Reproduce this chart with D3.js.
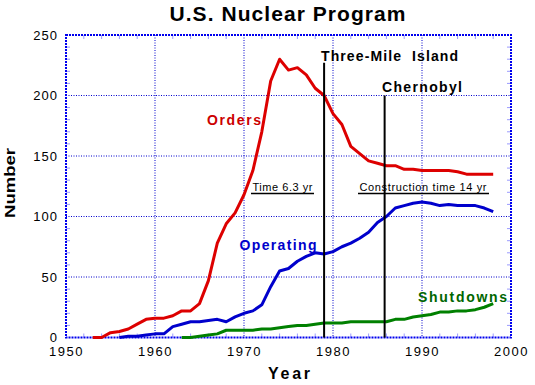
<!DOCTYPE html>
<html>
<head>
<meta charset="utf-8">
<script src="https://cdn.jsdelivr.net/npm/d3@7"></script>
<style>
  body { margin: 0; background: #fff; }
  svg { font-family: "Liberation Sans", Arial, sans-serif; }
</style>
</head>
<body>
<div id="chart"></div>
<script>
// Data
const ordersYears = d3.range(1953, 1999);
const orders = [0, 0, 4, 5, 7, 11, 15, 16, 16, 18,
  22, 22, 28, 47, 78, 94, 103, 118, 138, 170,
  212, 230, 221, 223, 217, 206, 200, 185, 176, 158,
  152, 146, 144, 142, 142, 139, 139, 138, 138, 138,
  138, 137, 135, 135, 135, 135];

const operatingYears = d3.range(1956, 1999);
const operating = [0, 1, 1, 2, 3, 3, 9, 11, 13, 13,
  14, 15, 13, 17, 20, 22, 27, 42, 55, 57,
  63, 67, 70, 69, 71, 75, 78, 82, 87, 95,
  100, 107, 109, 111, 112, 111, 109, 110, 109, 109,
  109, 107, 104];

const shutdownYears = d3.range(1963, 1999);
const shutdowns = [0, 0, 1, 2, 3, 6, 6, 6, 6, 7,
  7, 8, 9, 10, 10, 11, 12, 12, 12, 13,
  13, 13, 13, 13, 15, 15, 17, 18, 19, 21,
  21, 22, 22, 23, 25, 28];

const eventNames = ["Three-Mile  Island", "Chernobyl"];
const eventYears = [1979.0, 1985.8];
const eventTops = [227, 200];

const xTicks = [1950, 1960, 1970, 1980, 1990, 2000];
const yTicks = [0, 50, 100, 150, 200, 250];

// Layout
const width = 535, height = 385;
const plotLeft = 66, plotRight = 511, plotTop = 35, plotBottom = 337.5;

const x = d3.scaleLinear().domain([1950, 2000]).range([plotLeft, plotRight]);
const y = d3.scaleLinear().domain([0, 250]).range([plotBottom, plotTop]);

const svg = d3.select("#chart").append("svg")
  .attr("width", width)
  .attr("height", height);

// Gridlines
svg.append("g")
  .selectAll("line")
  .data(xTicks.slice(1, -1))
  .join("line")
  .attr("x1", d => x(d)).attr("x2", d => x(d))
  .attr("y1", plotTop).attr("y2", plotBottom)
  .attr("stroke", "#0000cc")
  .attr("stroke-width", 1)
  .attr("stroke-dasharray", "1,1.5");

svg.append("g")
  .selectAll("line")
  .data(yTicks.slice(1, -1))
  .join("line")
  .attr("x1", plotLeft).attr("x2", plotRight)
  .attr("y1", d => y(d)).attr("y2", d => y(d))
  .attr("stroke", "#0000cc")
  .attr("stroke-width", 1)
  .attr("stroke-dasharray", "1,1.5");

// Minor ticks, inside the frame
const minorX = x.ticks(25).filter(d => xTicks.indexOf(d) < 0);
const minorY = y.ticks(25).filter(d => yTicks.indexOf(d) < 0);
const tickColor = "#9a9aff";

const minor = svg.append("g").attr("stroke", tickColor).attr("stroke-width", 1);
minorX.forEach(d => {
  minor.append("line").attr("x1", x(d)).attr("x2", x(d)).attr("y1", plotTop).attr("y2", plotTop + 4);
  minor.append("line").attr("x1", x(d)).attr("x2", x(d)).attr("y1", plotBottom).attr("y2", plotBottom - 4);
});
minorY.forEach(d => {
  minor.append("line").attr("x1", plotLeft).attr("x2", plotLeft + 4).attr("y1", y(d)).attr("y2", y(d));
  minor.append("line").attr("x1", plotRight).attr("x2", plotRight - 4).attr("y1", y(d)).attr("y2", y(d));
});

// Frame
svg.append("rect")
  .attr("x", plotLeft).attr("y", plotTop)
  .attr("width", plotRight - plotLeft).attr("height", plotBottom - plotTop)
  .attr("fill", "none")
  .attr("stroke", "#0000ee")
  .attr("stroke-width", 2)
  .attr("stroke-dasharray", "2,1");

// Tick labels
const xAxis = svg.append("g")
  .attr("transform", "translate(0," + plotBottom + ")")
  .call(d3.axisBottom(x).tickValues(xTicks).tickSize(0).tickPadding(9).tickFormat(d3.format("d")));
xAxis.select(".domain").remove();
xAxis.selectAll("text")
  .attr("font-size", 13)
  .attr("font-family", "Liberation Sans, Arial, sans-serif")
  .attr("fill", "#000")
  .style("letter-spacing", "1.5px");

const yAxis = svg.append("g")
  .attr("transform", "translate(" + (plotLeft - 8) + ",0)")
  .call(d3.axisLeft(y).tickValues(yTicks).tickSize(0).tickPadding(0));
yAxis.select(".domain").remove();
yAxis.selectAll("text")
  .attr("font-size", 13)
  .attr("font-family", "Liberation Sans, Arial, sans-serif")
  .attr("fill", "#000")
  .style("letter-spacing", "1px");

// Series
const line = d3.line()
  .x(d => x(d[0]))
  .y(d => y(d[1]));

const series = [
  { years: ordersYears, values: orders, color: "#dd0000" },
  { years: operatingYears, values: operating, color: "#0000cc" },
  { years: shutdownYears, values: shutdowns, color: "#008000" }
];

series.forEach(s => {
  svg.append("path")
    .datum(s.years.map((yr, i) => [yr, s.values[i]]))
    .attr("d", line)
    .attr("fill", "none")
    .attr("stroke", s.color)
    .attr("stroke-width", 3)
    .attr("stroke-linejoin", "round");
});

// Event lines
eventYears.forEach((yr, i) => {
  svg.append("line")
    .attr("x1", x(yr)).attr("x2", x(yr))
    .attr("y1", y(0)).attr("y2", y(eventTops[i]))
    .attr("stroke", "#000")
    .attr("stroke-width", 2);
});

// Labels
function label(txt, px, py, opts) {
  let t = svg.append("text")
    .attr("x", px).attr("y", py)
    .attr("font-size", opts.size)
    .attr("font-weight", opts.weight || "bold")
    .attr("fill", opts.color || "#000")
    .attr("text-anchor", opts.anchor || "start")
    .style("white-space", "pre")
    .text(txt);
  if (opts.len) t.attr("textLength", opts.len).attr("lengthAdjust", opts.adjust || "spacing");
  return t;
}

label("U.S. Nuclear Program", 169.5, 21, { size: 21, len: 236 });
label(eventNames[0], 321, 60.7, { size: 14, len: 137 });
label(eventNames[1], 382, 92.3, { size: 14, len: 80 });
label("Orders", 207, 125, { size: 14, color: "#cc0000", len: 54 });
label("Operating", 239.5, 250, { size: 14, color: "#0000cc", len: 77 });
label("Shutdowns", 418, 301.7, { size: 14, color: "#006600", len: 89 });

label("Time 6.3 yr", 252.5, 190.5, { size: 11, weight: "normal", len: 60 });
label("Construction time 14 yr", 359.5, 190.5, { size: 11, weight: "normal", len: 127 });
svg.append("line").attr("x1", 251).attr("x2", 314).attr("y1", 193.5).attr("y2", 193.5)
  .attr("stroke", "#000").attr("stroke-width", 1.5);
svg.append("line").attr("x1", 358).attr("x2", 489).attr("y1", 193.5).attr("y2", 193.5)
  .attr("stroke", "#000").attr("stroke-width", 1.5);

label("Year", 268, 379.3, { size: 16, len: 42 });
label("Number", 0, 0, { size: 14, len: 70, adjust: "spacingAndGlyphs", anchor: "middle" })
  .attr("transform", "translate(14.5,183) rotate(-90)");
</script>
</body>
</html>
